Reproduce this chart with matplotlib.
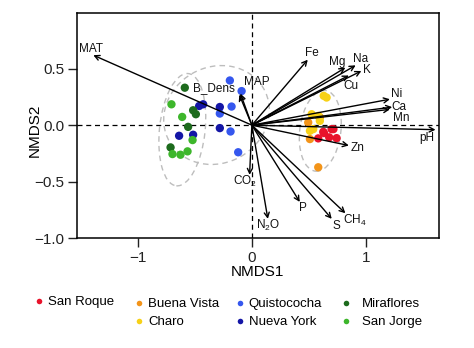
import matplotlib
matplotlib.use('Agg')
import matplotlib.pyplot as plt
from matplotlib.patches import Ellipse
from matplotlib.lines import Line2D

plt.rcParams['font.family'] = ['Liberation Sans', 'DejaVu Sans']
plt.rcParams['mathtext.fontset'] = 'custom'
plt.rcParams['mathtext.rm'] = 'Liberation Sans'

# site scores (NMDS1, NMDS2)
sites = ['San Roque', 'Buena Vista', 'Charo', 'Quistococha', 'Nueva York', 'Miraflores', 'San Jorge']
site_colors = ['#E8132B', '#F39419', '#F7D117', '#3557EE', '#1416A6', '#1D6B1D', '#3DB62B']

san_roque_x = [0.626, 0.699, 0.678, 0.582, 0.743, 0.715, 0.632]
san_roque_y = [-0.059, -0.035, -0.108, -0.117, -0.115, -0.035, -0.07]
buena_vista_x = [0.494, 0.509, 0.582, 0.596]
buena_vista_y = [0.024, -0.123, -0.373, 0.07]
charo_x = [0.63, 0.655, 0.524, 0.582, 0.596, 0.538, 0.509]
charo_y = [0.26, 0.245, 0.097, 0.082, 0.038, -0.035, -0.05]
quisto_x = [-0.193, -0.09, -0.178, -0.281, -0.187, -0.12]
quisto_y = [0.396, 0.302, 0.165, 0.103, -0.056, -0.24]
nueva_x = [-0.462, -0.427, -0.281, -0.281, -0.638, -0.515]
nueva_y = [0.17, 0.185, 0.161, -0.026, -0.094, -0.085]
mira_x = [-0.588, -0.515, -0.491, -0.559, -0.713]
mira_y = [0.332, 0.132, 0.097, -0.015, -0.197]
jorge_x = [-0.705, -0.611, -0.52, -0.696, -0.626, -0.564]
jorge_y = [0.185, 0.073, -0.132, -0.256, -0.262, -0.232]

# fitted environmental vectors
vec_names = ['MAT', 'B_Dens', 'MAP', 'Fe', 'Mg', 'Na', 'K', 'Cu', 'Ni', 'Ca', 'Mn',
             'pH', 'Zn', 'CH4', 'S', 'P', 'N2O', 'CO2']
vec_x = [-1.39, -0.11, -0.10, 0.49, 0.82, 0.91, 0.96, 0.85, 1.21, 1.23, 1.21,
         1.61, 0.85, 0.82, 0.70, 0.42, 0.14, -0.02]
vec_y = [0.62, 0.27, 0.28, 0.58, 0.51, 0.53, 0.48, 0.44, 0.23, 0.16, 0.14,
         -0.04, -0.18, -0.78, -0.83, -0.68, -0.83, -0.44]

# group ellipses: centre x, centre y, width, height, angle
ell_cx = [-0.61, -0.31, 0.60]
ell_cy = [-0.04, 0.09, -0.05]
ell_w = [0.40, 0.95, 0.36]
ell_h = [1.0, 0.85, 0.72]
ell_ang = [-6, 30, -7]

fig = plt.figure(figsize=(4.74, 3.48), dpi=100)
ax = fig.add_axes([0.162, 0.316, 0.764, 0.647])

for cx, cy, w, h, a in zip(ell_cx, ell_cy, ell_w, ell_h, ell_ang):
    ax.add_patch(Ellipse((cx, cy), w, h, angle=a, fill=False, ls=(0, (4, 3)),
                         ec='#BDBDBD', lw=1.0, zorder=1))

ax.axhline(0, color='black', ls=(0, (4, 3)), lw=0.9, zorder=2)
ax.axvline(0, color='black', ls=(0, (4, 3)), lw=0.9, zorder=2)

groups = [(san_roque_x, san_roque_y), (buena_vista_x, buena_vista_y), (charo_x, charo_y),
          (quisto_x, quisto_y), (nueva_x, nueva_y), (mira_x, mira_y), (jorge_x, jorge_y)]
for (gx, gy), c in zip(groups, site_colors):
    ax.scatter(gx, gy, s=36, color=c, edgecolors='none', zorder=3)

labels = {'CH4': 'CH$_\\mathregular{4}$', 'N2O': 'N$_\\mathregular{2}$O',
          'CO2': 'CO$_\\mathregular{2}$'}
# label offsets from arrow tip
offs = {'MAT': (-0.02, 0.055), 'B_Dens': (-0.22, 0.06), 'MAP': (0.14, 0.10),
        'Fe': (0.04, 0.06), 'Mg': (-0.07, 0.05), 'Na': (0.04, 0.06), 'K': (0.05, 0.01),
        'Cu': (0.02, -0.09), 'Ni': (0.06, 0.045), 'Ca': (0.06, 0.005), 'Mn': (0.10, -0.075),
        'pH': (-0.08, -0.075), 'Zn': (0.08, -0.02), 'CH4': (0.08, -0.065),
        'S': (0.04, -0.06), 'P': (0.03, -0.05), 'N2O': (0.0, -0.06), 'CO2': (-0.04, -0.06)}

for n, vx, vy in zip(vec_names, vec_x, vec_y):
    ax.annotate('', xy=(vx, vy), xytext=(0, 0),
                arrowprops=dict(arrowstyle='->,head_length=0.35,head_width=0.18',
                                color='black', lw=1.0, shrinkA=0, shrinkB=0), zorder=4)
    dx, dy = offs[n]
    ax.text(vx + dx, vy + dy, labels.get(n, n), ha='center', va='center',
            fontsize=8.5, color='#111111', zorder=5)

ax.set_xlim(-1.535, 1.64)
ax.set_ylim(-1.0, 0.995)
ax.set_xticks([-1, 0, 1])
ax.set_xticklabels(['\u22121', '0', '1'])
ax.set_yticks([-1.0, -0.5, 0.0, 0.5])
ax.set_yticklabels(['\u22121.0', '\u22120.5', '0.0', '0.5'])
ax.tick_params(direction='out', length=6.5, width=1, labelsize=11, pad=2.5, colors='#222222')
for sp in ax.spines.values():
    sp.set_linewidth(1.1)
ax.set_xlabel('NMDS1', fontsize=11, labelpad=0)
ax.set_ylabel('NMDS2', fontsize=11)
ax.yaxis.set_label_coords(-0.097, 0.48)

# legend in four columns
cols = [[0], [1, 2], [3, 4], [5, 6]]
col_x = [35, 135, 236, 342]
col_pad = [0.35, 0.4, 0.35, 0.9]
for idx, lx, tp in zip(cols, col_x, col_pad):
    h = [Line2D([], [], ls='none', marker='o', markersize=4, markeredgewidth=0,
                color=site_colors[i]) for i in idx]
    fig.legend(h, [sites[i] for i in idx], loc='upper left',
               bbox_to_anchor=(lx / 474, 1 - (296 if len(idx) == 1 else 298) / 348),
               frameon=False, fontsize=9.5, handlelength=0.6, handletextpad=tp,
               borderpad=0, borderaxespad=0, labelspacing=0.45)

fig.savefig('out.png', dpi=100)
